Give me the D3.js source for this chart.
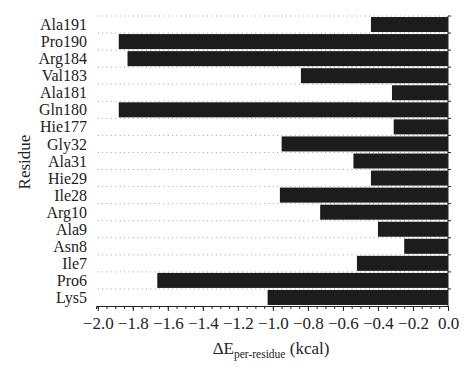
<!DOCTYPE html>
<html><head><meta charset="utf-8">
<script src="https://cdn.jsdelivr.net/npm/d3@7"></script>
<style>body{margin:0;background:#fff}svg{display:block}</style>
</head><body>
<script>
const residues = ["Ala191","Pro190","Arg184","Val183","Ala181","Gln180","Hie177","Gly32","Ala31","Hie29","Ile28","Arg10","Ala9","Asn8","Ile7","Pro6","Lys5"];
const energies = [-0.44,-1.88,-1.83,-0.84,-0.32,-1.88,-0.31,-0.95,-0.54,-0.44,-0.96,-0.73,-0.40,-0.25,-0.52,-1.66,-1.03];
const xTicks = [-2.0,-1.8,-1.6,-1.4,-1.2,-1.0,-0.8,-0.6,-0.4,-0.2,0.0];

(function(){
const W=474,H=375;
const svg=d3.select("body").append("svg").attr("width",W).attr("height",H);
const font="'Liberation Serif','DejaVu Serif',serif";
const x=d3.scaleLinear().domain([-2.01,0]).range([96,448]);
const y0=16,y1=306;
const y=d3.scaleBand().domain(residues).range([y0,y1]).paddingInner(0.12).paddingOuter(0.06);
const step=(y1-y0)/residues.length;

// dotted grid at band boundaries
const bounds=d3.range(residues.length).map(i=>y0+i*step);
svg.append("g").selectAll("line").data(bounds).join("line")
  .attr("x1",x(-2.0)).attr("x2",x(0)).attr("y1",d=>d).attr("y2",d=>d)
  .attr("stroke","#a0a0a0").attr("stroke-width",1).attr("stroke-dasharray","1,3.375");

// bars
svg.append("g").selectAll("rect").data(residues).join("rect")
  .attr("x",(d,i)=>x(energies[i])).attr("width",(d,i)=>x(0)-x(energies[i]))
  .attr("y",d=>y(d)).attr("height",y.bandwidth()).attr("fill","#1c1c1c");

// right axis line with ticks
svg.append("line").attr("x1",x(0)).attr("x2",x(0)).attr("y1",y0).attr("y2",y1).attr("stroke","#222");
svg.append("g").selectAll("line").data(bounds).join("line")
  .attr("x1",x(0)).attr("x2",x(0)+3).attr("y1",d=>d).attr("y2",d=>d).attr("stroke","#222");

// x axis
const minor=d3.range(-2.0,0.001,0.05).map(v=>+v.toFixed(2));
const gx=svg.append("g").attr("transform",`translate(0,${y1})`);
gx.call(d3.axisBottom(x).tickValues(minor).tickSize(3).tickFormat(""));
gx.selectAll(".tick line").attr("stroke","#222");
gx.select(".domain").attr("stroke","#222");
const gx2=svg.append("g").attr("transform",`translate(0,${y1})`);
gx2.call(d3.axisBottom(x).tickValues(xTicks).tickSize(5).tickPadding(6).tickFormat(d=>(d<0?"\u2212":"")+Math.abs(d).toFixed(1)));
gx2.select(".domain").remove();
gx2.selectAll(".tick line").attr("stroke","#222");
gx2.selectAll("text").attr("font-family",font).attr("font-size",17).attr("fill","#222");

// y labels
svg.append("g").selectAll("text").data(residues).join("text")
  .attr("x",87).attr("y",d=>y(d)+y.bandwidth()/2).attr("dy","0.35em")
  .attr("text-anchor","end").attr("font-family",font).attr("font-size",16).attr("fill","#222").text(d=>d);

// y title
svg.append("text").attr("transform","translate(30,162) rotate(-90)").attr("text-anchor","middle")
  .attr("font-family",font).attr("font-size",17).attr("fill","#222").text("Residue");

// x title
const t=svg.append("text").attr("x",271).attr("y",354).attr("text-anchor","middle")
  .attr("font-family",font).attr("font-size",17).attr("fill","#222");
t.append("tspan").text("\u0394E");
t.append("tspan").attr("font-size",11.5).attr("dy",4).text("per-residue");
t.append("tspan").attr("dy",-4).text(" (kcal)");
})();
</script>
</body></html>
